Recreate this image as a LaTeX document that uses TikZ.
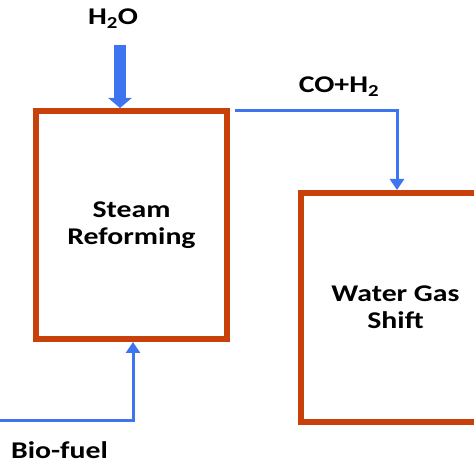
\documentclass[tikz,border=0pt]{standalone}
\usepackage{fontspec}
\newfontfamily\labfont[FakeStretch=1.24]{Carlito}
\usetikzlibrary{arrows.meta}
\definecolor{boxred}{HTML}{C8410A}
\definecolor{flowblue}{HTML}{3F74F0}
\tikzset{
  x=1pt, y=1pt,
  unitbox/.style={draw=boxred, line width=6pt, fill=none, align=center,
    font=\labfont\bfseries\fontsize{24}{27}\selectfont, inner sep=0pt},
  lab/.style={font=\labfont\bfseries\fontsize{24}{27}\selectfont, inner sep=0pt, anchor=base},
  flow/.style={draw=flowblue, line width=3pt, -{Triangle[width=14pt,length=11pt]}},
  fatflow/.style={draw=flowblue, line width=12pt, -{Triangle[width=23pt,length=10pt]}}
}
\begin{document}
\begin{tikzpicture}
\useasboundingbox (0,0) rectangle (474,474);
\clip (0,0) rectangle (474,474);
% boxes
\node[unitbox, minimum width=191pt, minimum height=228pt] (sr) at (131.5,249) {Steam\\Reforming};
\node[unitbox, minimum width=189pt, minimum height=229pt] (wgs) at (395.5,166.5) {Water Gas\\Shift};
% labels
\node[lab] (h2o) at (113,449) {H\textsubscript{2}O};
\node[lab] (coh2) at (339,381) {CO+H\textsubscript{2}};
\node[lab] (bio) at (59.5,16) {Bio-fuel};
% connectors
\coordinate (h2oin) at (120,429);
\draw[fatflow] (h2oin) -- (h2oin |- sr.north);
\coordinate (srout) at (235,363);
\coordinate (wgsin) at (397,363);
\draw[flow] (srout) -- (wgsin) -- (wgsin |- wgs.north);
\coordinate (bioin) at (-5,53);
\coordinate (biocorner) at (133,53);
\draw[flow] (bioin) -- (biocorner) -- (biocorner |- sr.south);
\end{tikzpicture}
\end{document}
